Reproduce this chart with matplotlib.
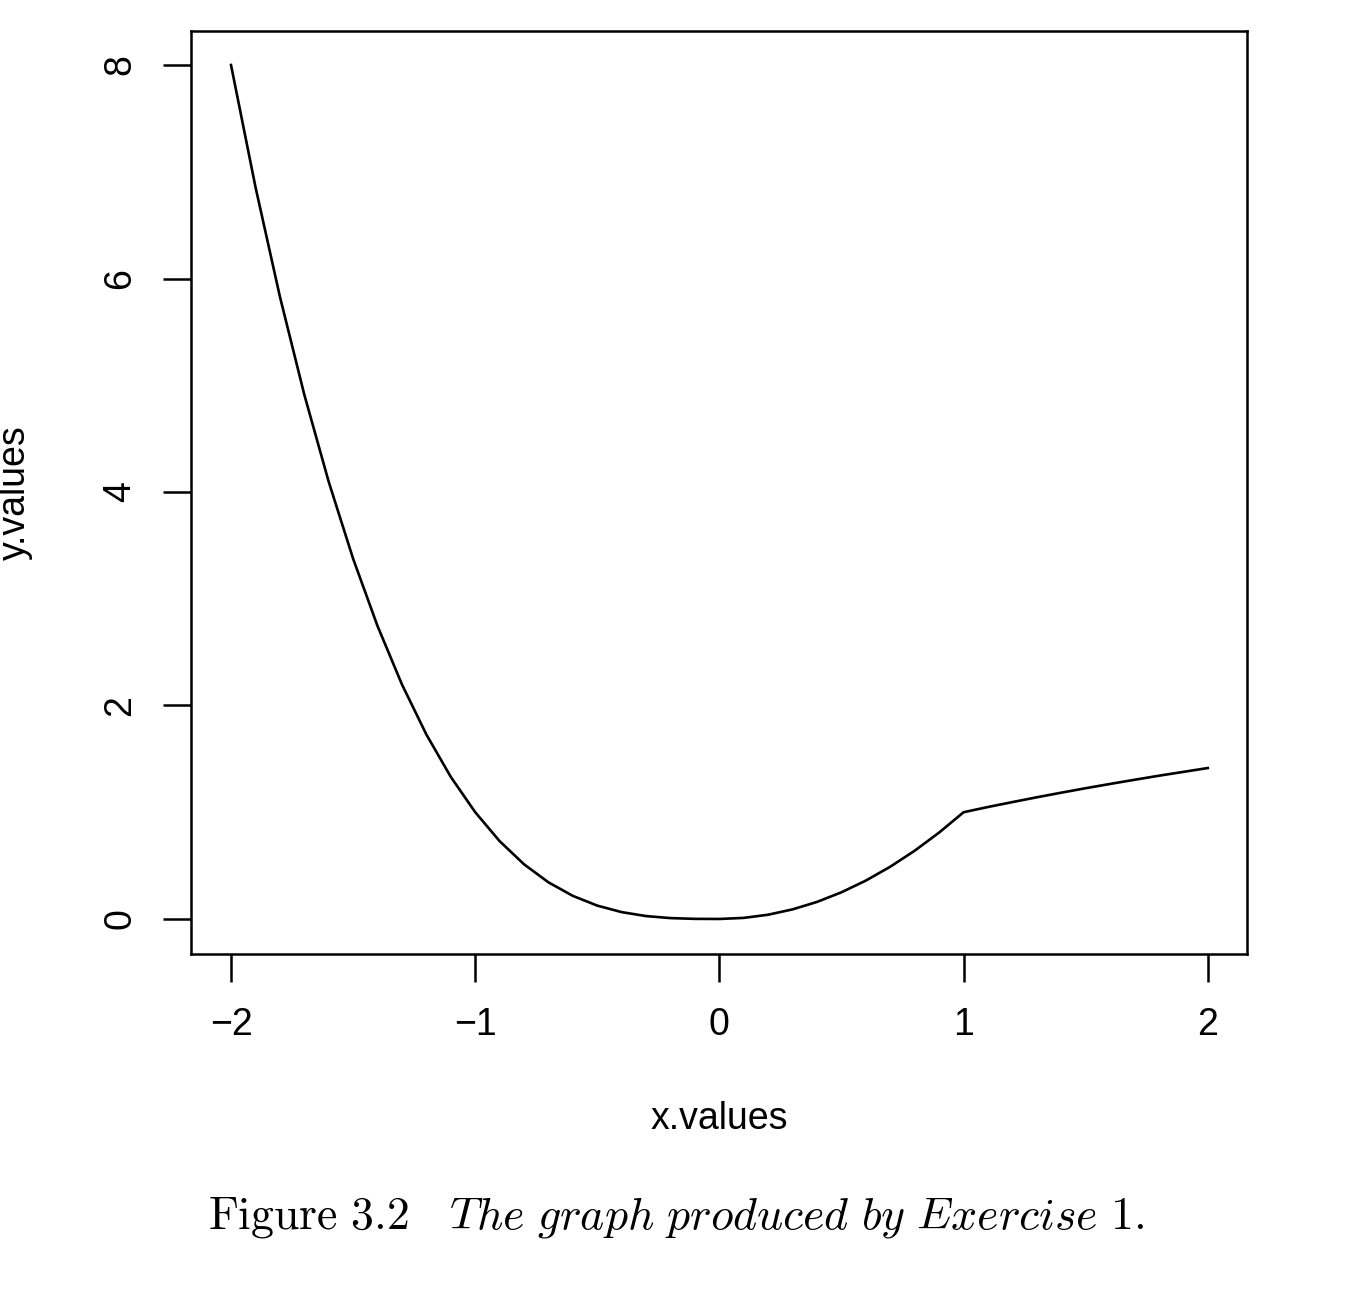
import matplotlib
matplotlib.use("Agg")
import matplotlib.pyplot as plt

x_values = [-2.0, -1.9, -1.8, -1.7, -1.6, -1.5, -1.4, -1.3, -1.2, -1.1, -1.0,
            -0.9, -0.8, -0.7, -0.6, -0.5, -0.4, -0.3, -0.2, -0.1, 0.0,
            0.1, 0.2, 0.3, 0.4, 0.5, 0.6, 0.7, 0.8, 0.9, 1.0,
            1.1, 1.2, 1.3, 1.4, 1.5, 1.6, 1.7, 1.8, 1.9, 2.0]
y_values = [8.0, 6.859, 5.832, 4.913, 4.096, 3.375, 2.744, 2.197, 1.728, 1.331, 1.0,
            0.729, 0.512, 0.343, 0.216, 0.125, 0.064, 0.027, 0.008, 0.001, 0.0,
            0.01, 0.04, 0.09, 0.16, 0.25, 0.36, 0.49, 0.64, 0.81, 1.0,
            1.049, 1.095, 1.140, 1.183, 1.225, 1.265, 1.304, 1.342, 1.378, 1.414]
x_ticks = [-2, -1, 0, 1, 2]
x_labels = ['\u22122', '\u22121', '0', '1', '2']
y_ticks = [0, 2, 4, 6, 8]

plt.rcParams['font.family'] = ['Liberation Sans', 'DejaVu Sans']
plt.rcParams['mathtext.fontset'] = 'cm'

fig = plt.figure(figsize=(13.66, 13.02), dpi=100)
ax = fig.add_axes([0.1398, 0.2673, 0.773, 0.709])
ax.plot(x_values, y_values, color='black', lw=1.9)
ax.set_xlim(-2.164, 2.16)
ax.set_ylim(-0.328, 8.32)

ax.set_xticks(x_ticks)
ax.set_xticklabels(x_labels)
ax.set_yticks(y_ticks)
ax.set_yticklabels([str(t) for t in y_ticks], rotation=90, va='center')
ax.tick_params(length=20, width=1.8, labelsize=27, pad=18)
for s in ax.spines.values():
    s.set_linewidth(1.8)

ax.set_xlabel('x.values', fontsize=27, labelpad=42)
ax.set_ylabel('y.values', fontsize=27, labelpad=50)

fig.text(0.495, 0.065, r'$\mathrm{Figure\ 3.2}\ \ \ \mathit{The\ graph\ produced\ by\ Exercise\ 1.}$',
         ha='center', va='center', fontsize=33)

fig.savefig('out.png', dpi=100)
